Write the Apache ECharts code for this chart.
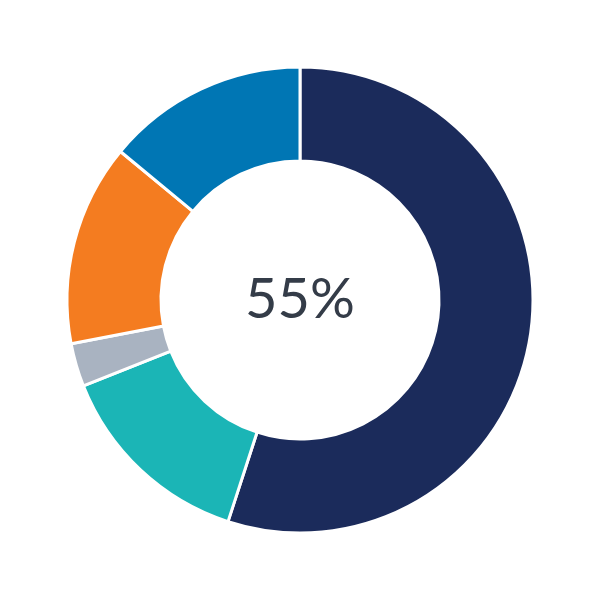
<!DOCTYPE html>
<html>
<head>
<meta charset="utf-8">
<script src="https://cdn.jsdelivr.net/npm/echarts@6/dist/echarts.min.js"></script>
<style>html,body{margin:0;padding:0;background:#fff}#c{width:600px;height:600px}</style>
</head>
<body>
<div id="c"></div>
<script>
var categories = ['Segment A', 'Segment B', 'Segment C', 'Segment D', 'Segment E'];
var values = [55, 14, 3, 14, 14];
var colors = ['#1b2b5b', '#1bb5b6', '#a9b3c1', '#f47c20', '#0076b4'];
var centerLabel = '55%';

var chart = echarts.init(document.getElementById('c'), null, {renderer: 'canvas'});
chart.setOption({
  animation: false,
  backgroundColor: '#ffffff',
  title: {
    text: centerLabel,
    left: 'center',
    top: 'middle',
    textStyle: {fontFamily: 'Lato', fontSize: 56, fontWeight: 'normal', color: '#343c48'}
  },
  series: [{
    type: 'pie',
    center: [300, 300],
    radius: [139, 233],
    startAngle: 90,
    clockwise: true,
    label: {show: false},
    labelLine: {show: false},
    itemStyle: {borderColor: '#ffffff', borderWidth: 3},
    emphasis: {disabled: true},
    data: categories.map(function (n, i) {
      return {name: n, value: values[i], itemStyle: {color: colors[i]}};
    })
  }]
});
</script>
</body>
</html>
